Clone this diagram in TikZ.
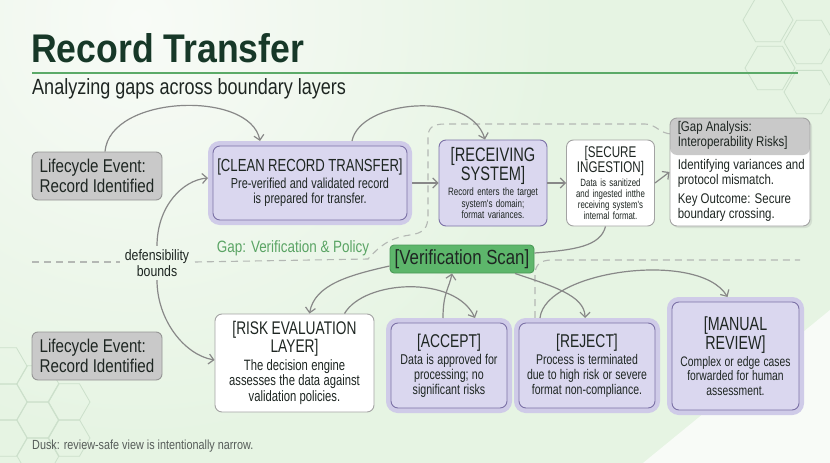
\documentclass[tikz,border=0pt]{standalone}
\usepackage{fontspec}
\setmainfont{Liberation Sans}[FakeStretch=0.82]
\newfontfamily\titlefont{Liberation Sans}[FakeStretch=0.89]
\newfontfamily\capsfont{Liberation Sans}[FakeStretch=0.75]
\usetikzlibrary{arrows.meta,shadows}

\definecolor{ink}{HTML}{1E2622}
\definecolor{titleink}{HTML}{173828}
\definecolor{rulegreen}{HTML}{5BAA68}
\definecolor{gapgreen}{HTML}{5AA464}
\definecolor{bgmid}{HTML}{E6F4E3}
\definecolor{bgtop}{HTML}{F8FBF7}
\definecolor{hexline}{HTML}{CCE0CB}
\definecolor{evfill}{HTML}{C9C9C9}
\definecolor{evline}{HTML}{959595}
\definecolor{stfill}{HTML}{DAD7EF}
\definecolor{stline}{HTML}{7B71A6}
\definecolor{stglow}{HTML}{CFCBE8}
\definecolor{wline}{HTML}{A3A3A3}
\definecolor{scanfill}{HTML}{5DB66B}
\definecolor{scanline}{HTML}{4A9957}
\definecolor{linkc}{HTML}{888888}
\definecolor{dashc}{HTML}{B4B8B4}

\newcommand\headsize[1]{\capsfont\fontsize{#1}{#1}\selectfont}
\newcommand\bodysize[2]{\fontsize{#1}{#2}\selectfont}

\begin{document}
\begin{tikzpicture}[x=1pt,y=-1pt]
\tikzstyle{event} = [rectangle, rounded corners=6pt, draw=evline, fill=evfill, line width=0.9pt, minimum width=130pt, minimum height=48pt, align=left, text=ink, font=\fontsize{18.5}{20}\selectfont]
\tikzstyle{stage} = [rectangle, rounded corners=7pt, draw=stline, fill=stfill, line width=0.9pt, align=center, text=ink, inner sep=2pt]
\tikzstyle{glow} = [preaction={draw=stglow, line width=10pt}, outer sep=5pt]
\tikzstyle{plain} = [rectangle, rounded corners=7pt, draw=wline, fill=white, line width=0.9pt, align=center, text=ink, inner sep=2pt]
\tikzstyle{link} = [draw=linkc, line width=1.2pt, -{Straight Barb[length=5pt,width=10pt]}]
\tikzstyle{bound} = [draw=dashc, line width=1.1pt, dash pattern=on 7pt off 5pt]
\tikzstyle{hexa} = [draw=hexline, line width=0.8pt]

\useasboundingbox (0,0) rectangle (830,463);

% background
\fill[bgmid] (0,0) rectangle (830,463);
\begin{scope}
\clip (0,0) rectangle (830,463);
\shade[inner color=bgtop, outer color=bgmid] (140,20) circle (420);
\fill[bgtop] (643,463) -- (830,310) -- (830,463) -- cycle;
\end{scope}
\foreach \hx/\hy in {768/20, 809/42, 770/68, 809/92}
  \draw[hexa] (\hx,\hy) +(0:25) -- +(60:25) -- +(120:25) -- +(180:25) -- +(240:25) -- +(300:25) -- cycle;
\foreach \hx/\hy in {6/366, 38/384, 6/402, 69/402, 38/420, 6/438, 38/456, 69/438}
  \draw[hexa] (\hx,\hy) +(0:21) -- +(60:21) -- +(120:21) -- +(180:21) -- +(240:21) -- +(300:21) -- cycle;

% heading
\node[anchor=west, inner sep=0, text=titleink, font=\titlefont\fontsize{40}{44}\selectfont\bfseries] (title) at (31,48) {Record Transfer};
\draw[rulegreen, line width=2pt] (32,73) -- (798,73);
\node[anchor=west, inner sep=0, text=ink, font=\fontsize{22}{24}\selectfont] (subtitle) at (32,89) {Analyzing gaps across boundary layers};

% boundary lines
\draw[bound] (32,262) -- (120,262);
\draw[bound] (195,262) -- (368,259) .. controls (378,248) and (388,238) .. (410,235) .. controls (424,233) and (428,228) .. (428,215) -- (428,138) .. controls (428,128) and (432,124) .. (445,124) -- (645,124) .. controls (656,124) and (660,134) .. (672,134);
\draw[bound] (535,318) -- (535,275) .. controls (535,265) and (540,260) .. (552,260) -- (800,260);

% nodes
\node[event] (life1) at (97,176) {Lifecycle Event:\\Record Identified};
\node[event] (life2) at (97,356) {Lifecycle Event:\\Record Identified};

\node[stage, glow, minimum width=194pt, minimum height=74pt, text width=188pt] (clean) at (310,183)
  {\headsize{17.5}[CLEAN RECORD TRANSFER]\par\vspace{1pt}\bodysize{14.5}{15.5}Pre-verified and validated record\\is prepared for transfer.\par};
\node[stage, minimum width=108pt, minimum height=86pt, text width=104pt] (recv) at (493,183)
  {\headsize{19.5}[RECEIVING\\SYSTEM]\par\vspace{2pt}\bodysize{10.7}{11.5}Record enters the target\\system's domain;\\format variances.\par};
\node[plain, minimum width=87pt, minimum height=86pt, text width=84pt] (secure) at (610.5,183)
  {\headsize{15.5}[SECURE\\INGESTION]\par\vspace{2pt}\bodysize{10.5}{11.3}Data is sanitized\\and ingested intthe\\receiving system's\\internal format.\par};

\node[rectangle, rounded corners=7pt, draw=wline, fill=white, line width=0.9pt, drop shadow={opacity=0.18, shadow xshift=2pt, shadow yshift=-2pt}, minimum width=140pt, minimum height=108pt,
  path picture={\fill[evfill] (path picture bounding box.north west) rectangle ([yshift=-37pt]path picture bounding box.north east);}] (gap) at (740,172) {};
\node[anchor=north west, align=left, inner sep=0, text=ink, font=\fontsize{14}{14.5}\selectfont] (gaptitle) at ([xshift=8pt,yshift=-4pt]gap.north west) {[Gap Analysis:\\Interoperability Risks]};
\node[anchor=north west, align=left, inner sep=0, text=ink, font=\fontsize{14}{14.5}\selectfont] (gapnote) at ([xshift=8pt,yshift=-42pt]gap.north west) {Identifying variances and\\protocol mismatch.\\[5pt]Key Outcome: Secure\\boundary crossing.};

\node[rectangle, rounded corners=4pt, draw=scanline, fill=scanfill, line width=0.9pt, minimum width=144pt, minimum height=28pt, inner sep=1pt, text=ink, font=\fontsize{20.5}{22}\selectfont] (scan) at (462,259) {[Verification Scan]};

\node[plain, minimum width=159pt, minimum height=98pt, text width=155pt] (risk) at (294.5,363)
  {\headsize{18.3}[RISK EVALUATION\\LAYER]\par\vspace{2pt}\bodysize{15}{15.5}The decision engine\\assesses the data against\\validation policies.\par};
\node[stage, glow, minimum width=114pt, minimum height=85pt, text width=112pt] (accept) at (449,365.5)
  {\headsize{18.5}[ACCEPT]\par\vspace{3pt}\bodysize{14.2}{14.8}Data is approved for\\processing; no\\significant risks\par};
\node[stage, glow, minimum width=136pt, minimum height=85pt, text width=132pt] (reject) at (587,365.5)
  {\headsize{18.5}[REJECT]\par\vspace{3pt}\bodysize{14}{14.8}Process is terminated\\due to high risk or severe\\format non-compliance.\par};
\node[stage, glow, minimum width=127pt, minimum height=108pt, text width=123pt] (manual) at (735.5,356)
  {\headsize{19}[MANUAL\\REVIEW]\par\vspace{2pt}\bodysize{13.8}{14.6}Complex or edge cases\\forwarded for human\\assessment.\par};

% labels
\node[align=center, text=ink, font=\fontsize{15}{16}\selectfont] (bounds) at (157,263) {defensibility\\bounds};
\node[text=gapgreen, font=\fontsize{16.4}{18}\selectfont] (gaplabel) at (293,248) {Gap: Verification \& Policy};
\node[anchor=west, inner sep=0, text=ink!75, font=\fontsize{13.2}{15}\selectfont] (footer) at (32,446) {Dusk: review-safe view is intentionally narrow.};

% connectors
\draw[link] ([xshift=8pt]life1.north) .. controls +(5,-57) and +(-10,-51) .. ([xshift=-50pt]clean.north);
\draw[link] (bounds.north) .. controls +(0,-40) and +(-25,2) .. ([yshift=5pt]clean.west);
\draw[link] (bounds.south) .. controls +(0,40) and +(-30,-5) .. ([yshift=3pt]risk.west);
\draw[link] ([xshift=42pt]clean.north) .. controls +(8,-41) and +(-15,-50) .. ([xshift=-8pt]recv.north);
\draw[link] (clean.east) -- (recv.west);
\draw[link] (recv.east) -- (secure.west);
\draw[link] (secure.east) -- (gap.west);
\draw[link, -] ([xshift=-5pt]secure.south) .. controls +(-5,20) and +(40,-3) .. ([yshift=6pt]scan.east);
\draw[link] ([yshift=-7pt]scan.west) .. controls +(-40,9) and +(5,-29) .. ([xshift=15pt]risk.north);
\draw[link] ([xshift=50pt]risk.north) .. controls +(20,-34) and +(-20,-43) .. ([xshift=26pt]accept.north);
\draw[link] ([xshift=-6pt]accept.north) .. controls +(0,-25) and +(-3,15) .. ([xshift=-10pt]scan.south);
\draw[link] ([xshift=53pt]scan.south) .. controls +(35,12) and +(0,-23) .. ([xshift=-2pt]reject.north);
\draw[link] ([xshift=-47pt]reject.north) .. controls +(5,-48) and +(-28,-47) .. ([xshift=-8pt]manual.north);
\end{tikzpicture}
\end{document}
